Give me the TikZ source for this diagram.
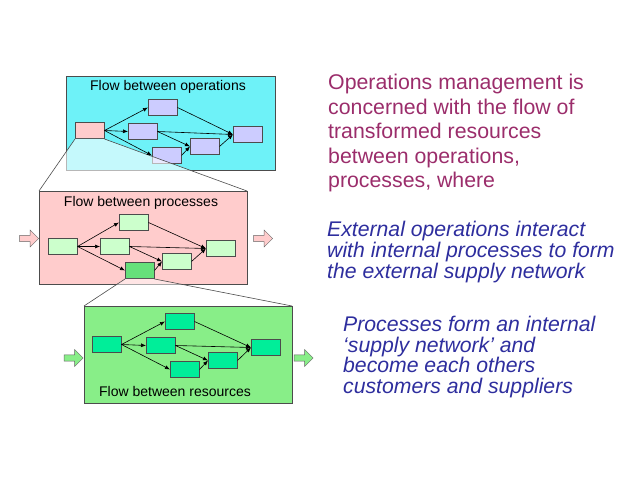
\documentclass[tikz,border=0pt]{standalone}
\usepackage{fontspec}
\setmainfont{Liberation Sans}
\usetikzlibrary{arrows.meta,shapes.arrows}
\definecolor{opsbg}{HTML}{6EF2F8}
\definecolor{lav}{HTML}{CCCCFF}
\definecolor{procbg}{HTML}{FFCCCC}
\definecolor{pnode}{HTML}{CCFFCC}
\definecolor{pnodeg}{HTML}{66E07A}
\definecolor{resbg}{HTML}{88EE88}
\definecolor{rnode}{HTML}{00EE99}
\definecolor{purp}{HTML}{9B2D6B}
\definecolor{blu}{HTML}{2E2E9E}
\begin{document}
\begin{tikzpicture}[x=1pt,y=-1pt,
  box/.style={draw=black!70,line width=0.8pt},
  nd/.style={draw=black!70,line width=0.5pt,minimum width=29pt,minimum height=16.5pt,inner sep=0pt,anchor=north west},
  ed/.style={-{Latex[length=5pt,width=4pt]},line width=0.6pt},
  blk/.style={single arrow,draw=black!60,minimum height=19pt,minimum width=17pt,single arrow head extend=2pt,inner sep=1pt},
  ttl/.style={font=\fontsize{14}{16}\selectfont},
  funnel/.style={draw=black!70,line width=0.6pt}]
\useasboundingbox (0,0) rectangle (638,478);
% ops box
\node[box,fill=opsbg,minimum width=209pt,minimum height=94pt,anchor=north west,inner sep=0pt] (ops) at (66,76) {};
\node[ttl] (t1) at (168,87) {Flow between operations};
\node[nd,fill=procbg] (o1) at (75,122) {};
\node[nd,fill=lav] (o2) at (148,99) {};
\node[nd,fill=lav] (o3) at (128,123) {};
\node[nd,fill=lav] (o4) at (152,147) {};
\node[nd,fill=lav] (o5) at (190,138) {};
\node[nd,fill=lav] (o6) at (233,126) {};
% funnel 1
\fill[white,opacity=0.6] (o1.south west) -- (39,191) -- (247,191) -- (o1.south east) -- cycle;
\coordinate (f1a) at (39,191); \coordinate (f1b) at (247,191);
\draw[funnel] (o1.south west) -- (f1a);
\draw[funnel] (o1.south east) -- (f1b);
\foreach \a/\b in {o1/o2,o1/o3,o1/o4,o2/o6,o3/o6,o3/o5,o4/o5,o5/o6}
  \draw[ed] (\a.east) -- (\b.west);
% proc box
\node[box,fill=procbg,minimum width=208pt,minimum height=93pt,anchor=north west,inner sep=0pt] (proc) at (39,191) {};
\node[ttl] (t2) at (141,203) {Flow between processes};
\node[nd,fill=pnode] (p1) at (48,238) {};
\node[nd,fill=pnode] (p2) at (119,214) {};
\node[nd,fill=pnode] (p3) at (100,238) {};
\node[nd,fill=pnodeg] (p4) at (125,262) {};
\node[nd,fill=pnode] (p5) at (162,253) {};
\node[nd,fill=pnode] (p6) at (206,240) {};
\foreach \a/\b in {p1/p2,p1/p3,p1/p4,p2/p6,p3/p6,p3/p5,p4/p5,p5/p6}
  \draw[ed] (\a.east) -- (\b.west);
\node[blk,fill=procbg] (pa1) at (27.5,238.5) {};
\node[blk,fill=procbg] (pa2) at (261.5,238.5) {};
% funnel 2
\fill[white,opacity=0.5] (p4.south west) -- (84,306) -- (292,306) -- (p4.south east) -- cycle;
\coordinate (f2a) at (84,306); \coordinate (f2b) at (292,306);
\draw[funnel] (p4.south west) -- (f2a);
\draw[funnel] (p4.south east) -- (f2b);
% res box
\node[box,fill=resbg,minimum width=208pt,minimum height=97pt,anchor=north west,inner sep=0pt] (res) at (84,306) {};
\node[ttl] (t3) at (175,391) {Flow between resources};
\node[nd,fill=rnode] (r1) at (92,336) {};
\node[nd,fill=rnode] (r2) at (165,313) {};
\node[nd,fill=rnode] (r3) at (146,337) {};
\node[nd,fill=rnode] (r4) at (170,361) {};
\node[nd,fill=rnode] (r5) at (208,352) {};
\node[nd,fill=rnode] (r6) at (251,339) {};
\foreach \a/\b in {r1/r2,r1/r3,r1/r4,r2/r6,r3/r6,r3/r5,r4/r5,r5/r6}
  \draw[ed] (\a.east) -- (\b.west);
\node[blk,fill=resbg] (ra1) at (72,358) {};
\node[blk,fill=resbg] (ra2) at (302,358) {};
% text
\node[anchor=north west,align=left,text=purp,inner sep=0pt,font=\fontsize{21.3}{24.5}\selectfont] (tx1) at (328,74)
 {Operations management is\\concerned with the flow of\\transformed resources\\between operations,\\processes, where};
\node[anchor=north west,align=left,text=blu,inner sep=0pt,font=\fontsize{21.2}{19.5}\selectfont\itshape] (tx2) at (327,221)
 {External operations interact\\with internal processes to form\\the external supply network};
\node[anchor=north west,align=left,text=blu,inner sep=0pt,font=\fontsize{21.2}{20.5}\selectfont\itshape] (tx3) at (343,316)
 {Processes form an internal\\‘supply network’ and\\become each others\\customers and suppliers};
\end{tikzpicture}
\end{document}
